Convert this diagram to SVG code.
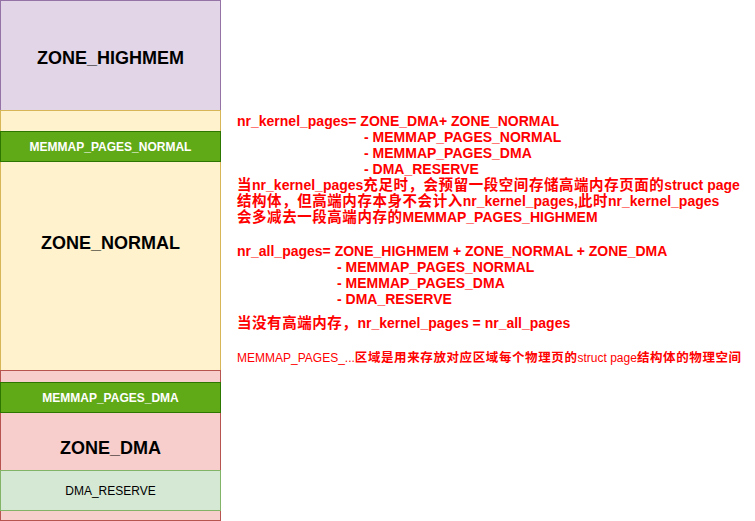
<svg xmlns="http://www.w3.org/2000/svg" width="755" height="521" viewBox="0 0 755 521">
<style>
text{font-family:"Liberation Sans","Noto Sans CJK SC",sans-serif;}
.zone{font-size:18px;font-weight:bold;fill:#000;text-anchor:middle;}
.mm{font-size:12px;font-weight:bold;fill:#fff;text-anchor:middle;}
.rsv{font-size:12px;fill:#000;text-anchor:middle;}
.note{font-size:14px;font-weight:bold;fill:#ff0000;}
.note .cj{font-family:"Noto Sans CJK SC",sans-serif;font-size:14.5px;letter-spacing:0.55px;}
.small{font-size:12px;fill:#ff0000;}
.small .cj{font-family:"Noto Sans CJK SC",sans-serif;font-size:12.5px;letter-spacing:0.6px;font-weight:bold;}
.purple{fill:#e1d5e7;stroke:#9673a6;}
.yellow{fill:#fff2cc;stroke:#d6b656;}
.green{fill:#60a917;stroke:#2d7600;}
.red{fill:#f8cecc;stroke:#b85450;}
.lgreen{fill:#d5e8d4;stroke:#82b366;}
</style>
<rect width="755" height="521" fill="#fff"/>
<g id="zone_highmem">
<rect class="purple" x="0.5" y="0.5" width="220" height="110"/>
<text class="zone" x="110.5" y="63.5">ZONE_HIGHMEM</text>
</g>
<g id="zone_normal">
<rect class="yellow" x="0.5" y="110.5" width="220" height="260"/>
<text class="zone" x="110.5" y="248.5">ZONE_NORMAL</text>
</g>
<g id="memmap_pages_normal">
<rect class="green" x="0.5" y="131.5" width="220" height="30"/>
<text class="mm" x="110.5" y="151">MEMMAP_PAGES_NORMAL</text>
</g>
<g id="zone_dma">
<rect class="red" x="0.5" y="370.5" width="220" height="150"/>
<text class="zone" x="110.5" y="453.5">ZONE_DMA</text>
</g>
<g id="memmap_pages_dma">
<rect class="green" x="0.5" y="382.5" width="220" height="30"/>
<text class="mm" x="110.5" y="402">MEMMAP_PAGES_DMA</text>
</g>
<g id="dma_reserve">
<rect class="lgreen" x="0.5" y="470.5" width="220" height="40"/>
<text class="rsv" x="110.5" y="494.5">DMA_RESERVE</text>
</g>
<g id="note_kernel">
<text class="note" x="237" y="126">nr_kernel_pages= ZONE_DMA+ ZONE_NORMAL</text>
<text class="note" x="364" y="142">- MEMMAP_PAGES_NORMAL</text>
<text class="note" x="364" y="158">- MEMMAP_PAGES_DMA</text>
<text class="note" x="364" y="174">- DMA_RESERVE</text>
<text class="note" x="237" y="190"><tspan class="cj">当</tspan>nr_kernel_pages<tspan class="cj">充足时，会预留一段空间存储高端内存页面的</tspan>struct page</text>
<text class="note" x="237" y="206"><tspan class="cj">结构体，但高端内存本身不会计入</tspan>nr_kernel_pages,<tspan class="cj">此时</tspan>nr_kernel_pages</text>
<text class="note" x="237" y="222"><tspan class="cj">会多减去一段高端内存的</tspan>MEMMAP_PAGES_HIGHMEM</text>
</g>
<g id="note_all">
<text class="note" x="237" y="256">nr_all_pages= ZONE_HIGHMEM + ZONE_NORMAL + ZONE_DMA</text>
<text class="note" x="337" y="272">- MEMMAP_PAGES_NORMAL</text>
<text class="note" x="337" y="288">- MEMMAP_PAGES_DMA</text>
<text class="note" x="337" y="304">- DMA_RESERVE</text>
</g>
<g id="note_nohigh">
<text class="note" x="237" y="327.5"><tspan class="cj">当没有高端内存，</tspan>nr_kernel_pages = nr_all_pages</text>
</g>
<g id="note_memmap">
<text class="small" x="237" y="362">MEMMAP_PAGES_...<tspan class="cj">区域是用来存放对应区域每个物理页的</tspan>struct page<tspan class="cj">结构体的物理空间</tspan></text>
</g>
</svg>
